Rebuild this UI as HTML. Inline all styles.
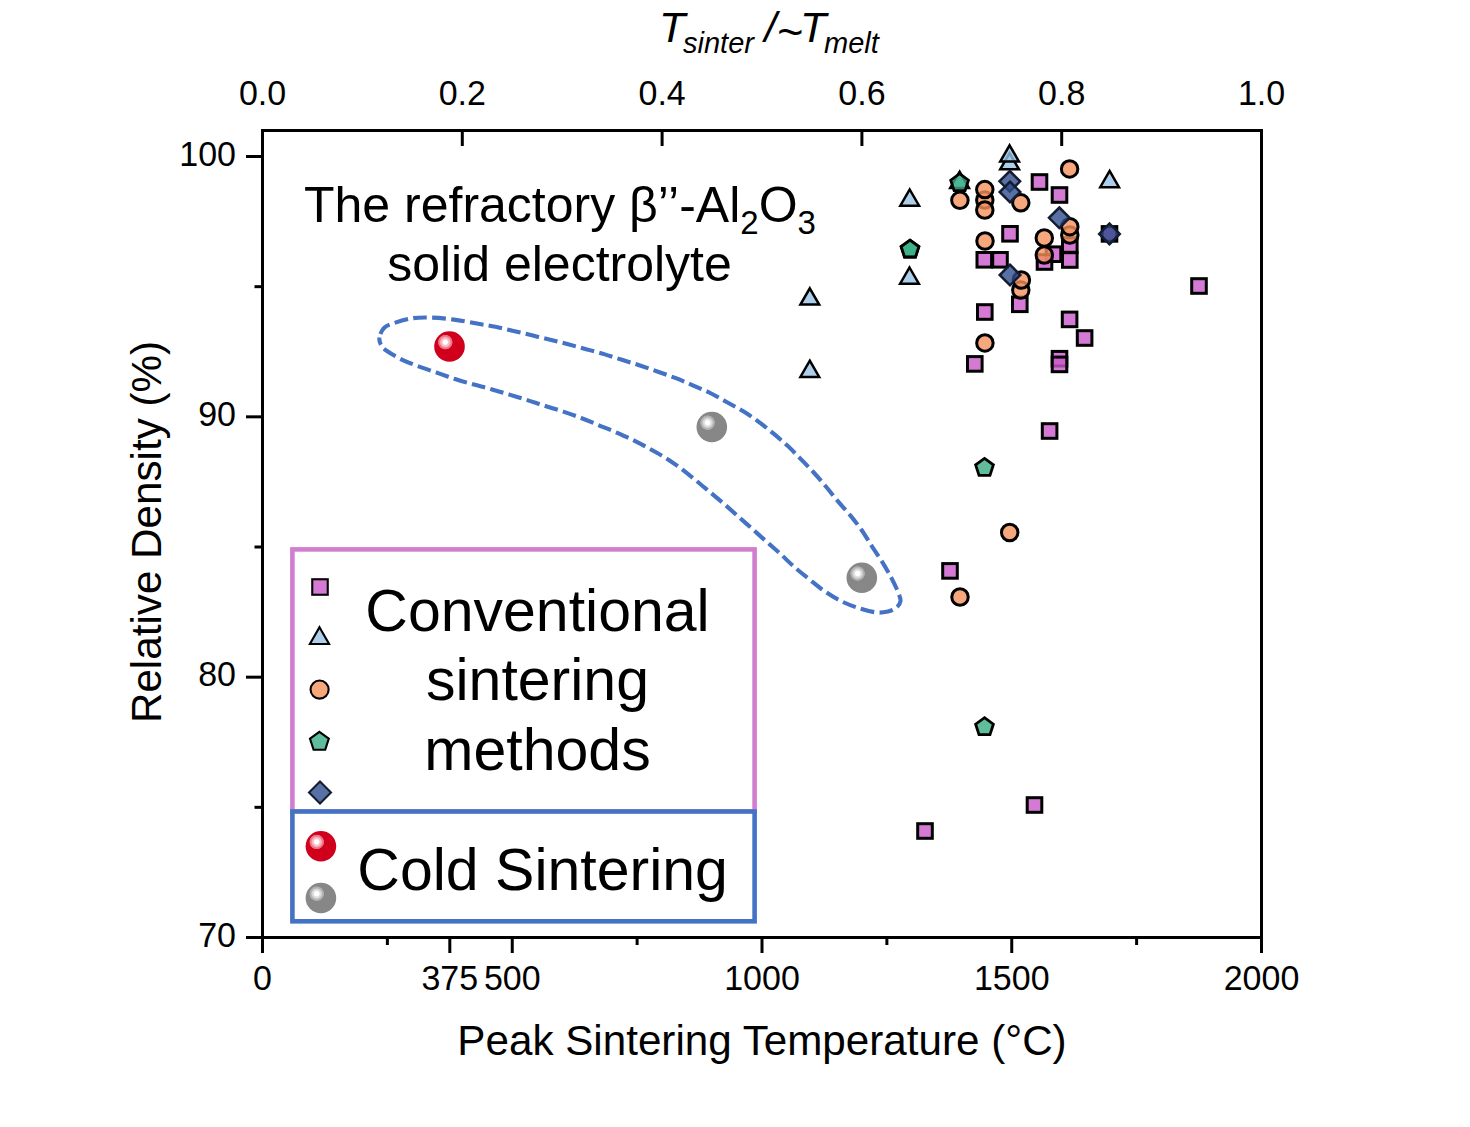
<!DOCTYPE html>
<html><head><meta charset="utf-8"><style>
html,body{margin:0;padding:0;background:#fff;}
svg{display:block;}
text{font-family:"Liberation Sans",sans-serif;}
</style></head><body>
<svg width="1470" height="1127" viewBox="0 0 1470 1127">
<defs>
<radialGradient id="hR" cx="0.5" cy="0.5" r="0.5">
<stop offset="0" stop-color="#fff"/><stop offset="0.28" stop-color="#fff"/><stop offset="0.42" stop-color="#f8c6cc"/><stop offset="0.62" stop-color="#f5b2ba"/><stop offset="0.72" stop-color="#ef8190"/><stop offset="0.92" stop-color="#ea6a7c"/><stop offset="1" stop-color="#d0001c"/>
</radialGradient>
<radialGradient id="hG" cx="0.5" cy="0.5" r="0.5">
<stop offset="0" stop-color="#fff"/><stop offset="0.28" stop-color="#fff"/><stop offset="0.42" stop-color="#e2e2e2"/><stop offset="0.62" stop-color="#d4d4d4"/><stop offset="0.72" stop-color="#b8b8b8"/><stop offset="0.92" stop-color="#acacac"/><stop offset="1" stop-color="#878787"/>
</radialGradient>
</defs>
<rect width="1470" height="1127" fill="#fff"/>
<rect x="262.5" y="130.5" width="999.0" height="807.0" fill="none" stroke="#000" stroke-width="3"/>
<line x1="262.50" y1="937.5" x2="262.50" y2="953" stroke="#000" stroke-width="3"/>
<line x1="449.81" y1="937.5" x2="449.81" y2="953" stroke="#000" stroke-width="3"/>
<line x1="512.25" y1="937.5" x2="512.25" y2="953" stroke="#000" stroke-width="3"/>
<line x1="762.00" y1="937.5" x2="762.00" y2="953" stroke="#000" stroke-width="3"/>
<line x1="1011.75" y1="937.5" x2="1011.75" y2="953" stroke="#000" stroke-width="3"/>
<line x1="1261.50" y1="937.5" x2="1261.50" y2="953" stroke="#000" stroke-width="3"/>
<line x1="387.38" y1="937.5" x2="387.38" y2="945" stroke="#000" stroke-width="3"/>
<line x1="637.12" y1="937.5" x2="637.12" y2="945" stroke="#000" stroke-width="3"/>
<line x1="886.88" y1="937.5" x2="886.88" y2="945" stroke="#000" stroke-width="3"/>
<line x1="1136.62" y1="937.5" x2="1136.62" y2="945" stroke="#000" stroke-width="3"/>
<line x1="246" y1="937.50" x2="262.5" y2="937.50" stroke="#000" stroke-width="3"/>
<line x1="246" y1="677.17" x2="262.5" y2="677.17" stroke="#000" stroke-width="3"/>
<line x1="246" y1="416.83" x2="262.5" y2="416.83" stroke="#000" stroke-width="3"/>
<line x1="246" y1="156.50" x2="262.5" y2="156.50" stroke="#000" stroke-width="3"/>
<line x1="254.5" y1="807.33" x2="262.5" y2="807.33" stroke="#000" stroke-width="3"/>
<line x1="254.5" y1="547.00" x2="262.5" y2="547.00" stroke="#000" stroke-width="3"/>
<line x1="254.5" y1="286.67" x2="262.5" y2="286.67" stroke="#000" stroke-width="3"/>
<line x1="262.50" y1="130.5" x2="262.50" y2="146" stroke="#000" stroke-width="3"/>
<line x1="462.30" y1="130.5" x2="462.30" y2="146" stroke="#000" stroke-width="3"/>
<line x1="662.10" y1="130.5" x2="662.10" y2="146" stroke="#000" stroke-width="3"/>
<line x1="861.90" y1="130.5" x2="861.90" y2="146" stroke="#000" stroke-width="3"/>
<line x1="1061.70" y1="130.5" x2="1061.70" y2="146" stroke="#000" stroke-width="3"/>
<line x1="1261.50" y1="130.5" x2="1261.50" y2="146" stroke="#000" stroke-width="3"/>
<text transform="translate(262.50,989.5) scale(1,1.04)" text-anchor="middle" font-family="Liberation Sans, sans-serif" font-size="34px">0</text>
<text transform="translate(449.81,989.5) scale(1,1.04)" text-anchor="middle" font-family="Liberation Sans, sans-serif" font-size="34px">375</text>
<text transform="translate(512.25,989.5) scale(1,1.04)" text-anchor="middle" font-family="Liberation Sans, sans-serif" font-size="34px">500</text>
<text transform="translate(762.00,989.5) scale(1,1.04)" text-anchor="middle" font-family="Liberation Sans, sans-serif" font-size="34px">1000</text>
<text transform="translate(1011.75,989.5) scale(1,1.04)" text-anchor="middle" font-family="Liberation Sans, sans-serif" font-size="34px">1500</text>
<text transform="translate(1261.50,989.5) scale(1,1.04)" text-anchor="middle" font-family="Liberation Sans, sans-serif" font-size="34px">2000</text>
<text transform="translate(236,946.50) scale(1,1.04)" text-anchor="end" font-family="Liberation Sans, sans-serif" font-size="34px">70</text>
<text transform="translate(236,686.17) scale(1,1.04)" text-anchor="end" font-family="Liberation Sans, sans-serif" font-size="34px">80</text>
<text transform="translate(236,425.83) scale(1,1.04)" text-anchor="end" font-family="Liberation Sans, sans-serif" font-size="34px">90</text>
<text transform="translate(236,165.50) scale(1,1.04)" text-anchor="end" font-family="Liberation Sans, sans-serif" font-size="34px">100</text>
<text transform="translate(262.50,104.5) scale(1,1.04)" text-anchor="middle" font-family="Liberation Sans, sans-serif" font-size="34px">0.0</text>
<text transform="translate(462.30,104.5) scale(1,1.04)" text-anchor="middle" font-family="Liberation Sans, sans-serif" font-size="34px">0.2</text>
<text transform="translate(662.10,104.5) scale(1,1.04)" text-anchor="middle" font-family="Liberation Sans, sans-serif" font-size="34px">0.4</text>
<text transform="translate(861.90,104.5) scale(1,1.04)" text-anchor="middle" font-family="Liberation Sans, sans-serif" font-size="34px">0.6</text>
<text transform="translate(1061.70,104.5) scale(1,1.04)" text-anchor="middle" font-family="Liberation Sans, sans-serif" font-size="34px">0.8</text>
<text transform="translate(1261.50,104.5) scale(1,1.04)" text-anchor="middle" font-family="Liberation Sans, sans-serif" font-size="34px">1.0</text>
<text x="762" y="1054.5" text-anchor="middle" font-family="Liberation Sans, sans-serif" font-size="42.2px">Peak Sintering Temperature (°C)</text>
<text transform="translate(161,532) rotate(-90)" text-anchor="middle" font-family="Liberation Sans, sans-serif" font-size="42.2px">Relative Density (%)</text>
<text x="659" y="42" font-family="Liberation Sans, sans-serif" font-size="43px" font-style="italic">T</text>
<text x="683" y="52.8" font-family="Liberation Sans, sans-serif" font-size="29px" font-style="italic">sinter</text>
<text x="764.5" y="42" font-family="Liberation Sans, sans-serif" font-size="43px" font-style="italic">/</text>
<text x="776.5" y="47" font-family="Liberation Sans, sans-serif" font-size="45px" font-style="italic">~</text>
<text x="800" y="42" font-family="Liberation Sans, sans-serif" font-size="43px" font-style="italic">T</text>
<text x="824" y="52.8" font-family="Liberation Sans, sans-serif" font-size="29px" font-style="italic">melt</text>
<text x="304" y="222" font-family="Liberation Sans, sans-serif" font-size="50px">The refractory β’’-Al<tspan font-size="33px" dy="12">2</tspan><tspan dy="-12">O</tspan><tspan font-size="33px" dy="12">3</tspan></text>
<text x="559.5" y="280.5" text-anchor="middle" font-family="Liberation Sans, sans-serif" font-size="50px">solid electrolyte</text>
<path d="M379.5,337.5 C380.0,334.7 381.6,330.4 384.0,328.0 C386.4,325.6 389.2,324.7 393.9,323.1 C398.6,321.5 405.8,319.2 412.0,318.3 C418.2,317.4 424.0,317.4 431.0,317.6 C438.0,317.8 446.3,318.6 454.0,319.6 C461.7,320.6 470.1,322.4 477.0,323.6 C483.9,324.8 489.4,325.6 495.5,326.8 C501.6,328.0 507.4,329.5 513.5,330.9 C519.6,332.3 525.8,333.8 531.9,335.3 C538.0,336.8 544.2,338.2 550.2,339.7 C556.2,341.2 562.2,342.7 568.2,344.3 C574.2,345.9 580.1,347.6 586.1,349.2 C592.1,350.8 598.1,352.3 604.1,354.1 C610.1,355.9 616.0,357.9 622.0,359.8 C628.0,361.7 634.0,363.5 640.0,365.5 C646.0,367.5 652.0,369.6 658.0,371.7 C664.0,373.8 670.2,376.0 675.9,378.2 C681.6,380.4 686.7,382.7 692.2,385.1 C697.8,387.5 703.6,389.7 709.2,392.5 C714.9,395.3 720.5,398.6 726.1,401.7 C731.7,404.8 737.5,407.8 742.9,411.1 C748.3,414.4 753.3,417.9 758.4,421.6 C763.5,425.3 768.4,429.4 773.3,433.4 C778.2,437.4 783.0,441.6 787.6,445.8 C792.2,450.1 796.2,454.4 800.6,458.9 C805.0,463.3 809.5,467.9 813.7,472.5 C818.0,477.1 822.1,482.0 826.1,486.8 C830.1,491.6 833.8,496.3 837.8,501.1 C841.8,505.9 846.4,510.6 850.3,515.4 C854.2,520.2 857.8,524.7 861.4,529.8 C865.0,534.9 868.2,540.6 871.6,545.8 C875.0,551.0 878.4,555.9 881.7,561.2 C885.0,566.5 888.5,572.5 891.3,577.7 C894.1,583.0 896.8,588.8 898.3,592.7 C899.8,596.6 900.8,598.5 900.5,601.0 C900.2,603.5 898.6,605.8 896.5,607.5 C894.4,609.2 891.5,610.7 888.0,611.5 C884.5,612.3 880.5,613.0 875.3,612.3 C870.1,611.6 862.7,609.5 856.7,607.5 C850.7,605.5 844.6,602.9 839.1,600.1 C833.6,597.3 828.7,594.0 823.6,590.5 C818.5,587.0 813.7,582.8 808.7,578.8 C803.7,574.8 798.5,570.6 793.8,566.5 C789.1,562.4 785.0,558.1 780.5,554.0 C776.0,549.9 771.2,545.8 766.5,541.6 C761.8,537.5 757.2,533.3 752.5,529.1 C747.8,524.9 743.1,520.8 738.4,516.6 C733.7,512.4 729.0,508.2 724.3,504.1 C719.6,500.1 714.9,496.2 710.2,492.3 C705.5,488.4 700.9,484.5 696.1,480.6 C691.3,476.7 686.4,472.6 681.3,468.8 C676.2,465.0 671.0,461.3 665.6,457.9 C660.2,454.5 654.7,451.5 649.2,448.5 C643.7,445.5 638.4,442.6 632.8,439.9 C627.2,437.2 621.2,434.6 615.5,432.1 C609.8,429.6 604.0,427.4 598.3,425.0 C592.6,422.6 586.9,420.2 581.1,418.0 C575.3,415.8 569.3,413.6 563.3,411.6 C557.3,409.6 551.3,407.9 545.3,406.0 C539.3,404.1 533.3,402.0 527.3,400.1 C521.3,398.2 515.4,396.4 509.4,394.6 C503.4,392.8 497.3,390.9 491.4,389.2 C485.5,387.5 479.8,386.2 473.9,384.6 C468.0,383.0 461.8,381.2 455.8,379.3 C449.8,377.4 444.1,375.2 438.1,373.1 C432.1,371.0 426.0,369.1 420.0,366.9 C414.0,364.7 407.8,362.4 402.3,359.8 C396.8,357.2 390.6,353.5 387.0,351.0 C383.4,348.5 382.2,347.2 381.0,345.0 C379.8,342.8 379.0,340.3 379.5,337.5Z" fill="none" stroke="#4472C4" stroke-width="4.1" stroke-dasharray="13.7 5.3" stroke-dashoffset="-3.7"/>
<rect x="292.4" y="549.4" width="462.2" height="262.1" fill="#fff" stroke="#D17ED1" stroke-width="4.6"/>
<rect x="292.4" y="811.5" width="462.2" height="109.8" fill="#fff" stroke="#4472C4" stroke-width="4.6"/>
<text x="537.5" y="631" text-anchor="middle" font-family="Liberation Sans, sans-serif" font-size="59px">Conventional</text>
<text x="537.5" y="700.2" text-anchor="middle" font-family="Liberation Sans, sans-serif" font-size="59px">sintering</text>
<text x="537.5" y="769.5" text-anchor="middle" font-family="Liberation Sans, sans-serif" font-size="59px">methods</text>
<text x="542.6" y="890" text-anchor="middle" font-family="Liberation Sans, sans-serif" font-size="59px">Cold Sintering</text>
<circle cx="449.5" cy="346.5" r="15.3" fill="#d0001c"/><circle cx="445.30" cy="342.20" r="7.6" fill="url(#hR)"/>
<circle cx="711.8" cy="427" r="15.3" fill="#878787"/><circle cx="707.60" cy="422.70" r="7.6" fill="url(#hG)"/>
<circle cx="861.8" cy="577.8" r="15.3" fill="#878787"/><circle cx="857.60" cy="573.50" r="7.6" fill="url(#hG)"/>
<circle cx="320.9" cy="846.2" r="15.3" fill="#d0001c"/><circle cx="316.70" cy="841.90" r="7.6" fill="url(#hR)"/>
<circle cx="320.9" cy="898" r="15.3" fill="#878787"/><circle cx="316.70" cy="893.70" r="7.6" fill="url(#hG)"/>
<rect x="1032.20" y="174.70" width="14.60" height="14.60" fill="#C959C9" fill-opacity="0.8" stroke="#000" stroke-width="3"/>
<rect x="1052.20" y="187.70" width="14.60" height="14.60" fill="#C959C9" fill-opacity="0.8" stroke="#000" stroke-width="3"/>
<rect x="1002.70" y="226.50" width="14.60" height="14.60" fill="#C959C9" fill-opacity="0.8" stroke="#000" stroke-width="3"/>
<rect x="977.00" y="252.50" width="14.60" height="14.60" fill="#C959C9" fill-opacity="0.8" stroke="#000" stroke-width="3"/>
<rect x="992.70" y="252.50" width="14.60" height="14.60" fill="#C959C9" fill-opacity="0.8" stroke="#000" stroke-width="3"/>
<rect x="1062.50" y="237.70" width="14.60" height="14.60" fill="#C959C9" fill-opacity="0.8" stroke="#000" stroke-width="3"/>
<rect x="1062.50" y="252.70" width="14.60" height="14.60" fill="#C959C9" fill-opacity="0.8" stroke="#000" stroke-width="3"/>
<rect x="1046.20" y="246.90" width="14.60" height="14.60" fill="#C959C9" fill-opacity="0.8" stroke="#000" stroke-width="3"/>
<rect x="1037.20" y="254.70" width="14.60" height="14.60" fill="#C959C9" fill-opacity="0.8" stroke="#000" stroke-width="3"/>
<rect x="1012.50" y="297.00" width="14.60" height="14.60" fill="#C959C9" fill-opacity="0.8" stroke="#000" stroke-width="3"/>
<rect x="977.50" y="304.70" width="14.60" height="14.60" fill="#C959C9" fill-opacity="0.8" stroke="#000" stroke-width="3"/>
<rect x="1062.30" y="312.10" width="14.60" height="14.60" fill="#C959C9" fill-opacity="0.8" stroke="#000" stroke-width="3"/>
<rect x="1077.30" y="330.70" width="14.60" height="14.60" fill="#C959C9" fill-opacity="0.8" stroke="#000" stroke-width="3"/>
<rect x="967.50" y="356.60" width="14.60" height="14.60" fill="#C959C9" fill-opacity="0.8" stroke="#000" stroke-width="3"/>
<rect x="1052.20" y="351.40" width="14.60" height="14.60" fill="#C959C9" fill-opacity="0.8" stroke="#000" stroke-width="3"/>
<rect x="1052.20" y="357.10" width="14.60" height="14.60" fill="#C959C9" fill-opacity="0.8" stroke="#000" stroke-width="3"/>
<rect x="1191.70" y="278.70" width="14.60" height="14.60" fill="#C959C9" fill-opacity="0.8" stroke="#000" stroke-width="3"/>
<rect x="1042.30" y="423.70" width="14.60" height="14.60" fill="#C959C9" fill-opacity="0.8" stroke="#000" stroke-width="3"/>
<rect x="1102.20" y="226.60" width="14.60" height="14.60" fill="#C959C9" fill-opacity="0.8" stroke="#000" stroke-width="3"/>
<rect x="942.70" y="563.60" width="14.60" height="14.60" fill="#C959C9" fill-opacity="0.8" stroke="#000" stroke-width="3"/>
<rect x="1027.20" y="797.70" width="14.60" height="14.60" fill="#C959C9" fill-opacity="0.8" stroke="#000" stroke-width="3"/>
<rect x="917.70" y="823.70" width="14.60" height="14.60" fill="#C959C9" fill-opacity="0.8" stroke="#000" stroke-width="3"/>
<path d="M959.60,171.70 L968.98,187.95 L950.22,187.95 Z" fill="#99C3E6" fill-opacity="0.8" stroke="#000" stroke-width="2.5"/>
<path d="M1009.60,153.10 L1018.98,169.35 L1000.22,169.35 Z" fill="#99C3E6" fill-opacity="0.8" stroke="#000" stroke-width="2.5"/>
<path d="M1009.60,145.30 L1018.98,161.55 L1000.22,161.55 Z" fill="#99C3E6" fill-opacity="0.8" stroke="#000" stroke-width="2.5"/>
<path d="M909.70,189.50 L919.08,205.75 L900.32,205.75 Z" fill="#99C3E6" fill-opacity="0.8" stroke="#000" stroke-width="2.5"/>
<path d="M1109.60,170.90 L1118.98,187.15 L1100.22,187.15 Z" fill="#99C3E6" fill-opacity="0.8" stroke="#000" stroke-width="2.5"/>
<path d="M909.50,267.50 L918.88,283.75 L900.12,283.75 Z" fill="#99C3E6" fill-opacity="0.8" stroke="#000" stroke-width="2.5"/>
<path d="M809.80,288.30 L819.18,304.55 L800.42,304.55 Z" fill="#99C3E6" fill-opacity="0.8" stroke="#000" stroke-width="2.5"/>
<path d="M809.80,360.70 L819.18,376.95 L800.42,376.95 Z" fill="#99C3E6" fill-opacity="0.8" stroke="#000" stroke-width="2.5"/>
<path d="M959.60,173.73 L968.47,180.18 L965.08,190.61 L954.12,190.61 L950.73,180.18 Z" fill="#37AC82" fill-opacity="0.8" stroke="#000" stroke-width="2.8"/>
<path d="M910.00,240.13 L918.87,246.58 L915.48,257.01 L904.52,257.01 L901.13,246.58 Z" fill="#37AC82" fill-opacity="0.8" stroke="#000" stroke-width="2.8"/>
<path d="M910.00,240.13 L918.87,246.58 L915.48,257.01 L904.52,257.01 L901.13,246.58 Z" fill="#37AC82" fill-opacity="0.8" stroke="#000" stroke-width="2.8"/>
<path d="M984.50,458.43 L993.37,464.88 L989.98,475.31 L979.02,475.31 L975.63,464.88 Z" fill="#37AC82" fill-opacity="0.8" stroke="#000" stroke-width="2.8"/>
<path d="M984.50,717.73 L993.37,724.18 L989.98,734.61 L979.02,734.61 L975.63,724.18 Z" fill="#37AC82" fill-opacity="0.8" stroke="#000" stroke-width="2.8"/>
<circle cx="1069.60" cy="168.90" r="8.25" fill="#F5915B" fill-opacity="0.8" stroke="#000" stroke-width="3"/>
<circle cx="959.90" cy="200.30" r="8.25" fill="#F5915B" fill-opacity="0.8" stroke="#000" stroke-width="3"/>
<circle cx="984.80" cy="200.00" r="8.25" fill="#F5915B" fill-opacity="0.8" stroke="#000" stroke-width="3"/>
<circle cx="984.80" cy="189.60" r="8.25" fill="#F5915B" fill-opacity="0.8" stroke="#000" stroke-width="3"/>
<circle cx="984.80" cy="210.00" r="8.25" fill="#F5915B" fill-opacity="0.8" stroke="#000" stroke-width="3"/>
<circle cx="1020.80" cy="202.80" r="8.25" fill="#F5915B" fill-opacity="0.8" stroke="#000" stroke-width="3"/>
<circle cx="1069.80" cy="235.00" r="8.25" fill="#F5915B" fill-opacity="0.8" stroke="#000" stroke-width="3"/>
<circle cx="1069.80" cy="226.70" r="8.25" fill="#F5915B" fill-opacity="0.8" stroke="#000" stroke-width="3"/>
<circle cx="985.00" cy="241.00" r="8.25" fill="#F5915B" fill-opacity="0.8" stroke="#000" stroke-width="3"/>
<circle cx="1044.30" cy="238.00" r="8.25" fill="#F5915B" fill-opacity="0.8" stroke="#000" stroke-width="3"/>
<circle cx="1044.30" cy="255.00" r="8.25" fill="#F5915B" fill-opacity="0.8" stroke="#000" stroke-width="3"/>
<circle cx="1020.80" cy="290.00" r="8.25" fill="#F5915B" fill-opacity="0.8" stroke="#000" stroke-width="3"/>
<circle cx="1021.40" cy="280.00" r="8.25" fill="#F5915B" fill-opacity="0.8" stroke="#000" stroke-width="3"/>
<circle cx="984.90" cy="342.90" r="8.25" fill="#F5915B" fill-opacity="0.8" stroke="#000" stroke-width="3"/>
<circle cx="1009.70" cy="532.50" r="8.25" fill="#F5915B" fill-opacity="0.8" stroke="#000" stroke-width="3"/>
<circle cx="960.00" cy="597.00" r="8.25" fill="#F5915B" fill-opacity="0.8" stroke="#000" stroke-width="3"/>
<path d="M1009.80,171.00 L1020.10,181.30 L1009.80,191.60 L999.50,181.30 Z" fill="#2E4C8C" fill-opacity="0.8" stroke="#141C30" stroke-width="2.5"/>
<path d="M1010.00,181.70 L1020.30,192.00 L1010.00,202.30 L999.70,192.00 Z" fill="#2E4C8C" fill-opacity="0.8" stroke="#141C30" stroke-width="2.5"/>
<path d="M1059.30,207.50 L1069.60,217.80 L1059.30,228.10 L1049.00,217.80 Z" fill="#2E4C8C" fill-opacity="0.8" stroke="#141C30" stroke-width="2.5"/>
<path d="M1010.00,264.70 L1020.30,275.00 L1010.00,285.30 L999.70,275.00 Z" fill="#2E4C8C" fill-opacity="0.8" stroke="#141C30" stroke-width="2.5"/>
<path d="M1109.50,223.60 L1119.80,233.90 L1109.50,244.20 L1099.20,233.90 Z" fill="#2E4C8C" fill-opacity="0.8" stroke="#141C30" stroke-width="2.5"/>
<rect x="312.25" y="579.25" width="15.5" height="15.5" fill="#C959C9" fill-opacity="0.8" stroke="#000" stroke-width="2.1"/>
<path d="M319.5,627.20 L329.10,644.05 L309.90,644.05 Z" fill="#99C3E6" fill-opacity="0.8" stroke="#000" stroke-width="2.1"/>
<circle cx="319.6" cy="689.6" r="9.05" fill="#F5915B" fill-opacity="0.8" stroke="#000" stroke-width="2.1"/>
<path d="M319.40,731.80 L328.82,738.64 L325.22,749.71 L313.58,749.71 L309.98,738.64 Z" fill="#37AC82" fill-opacity="0.8" stroke="#000" stroke-width="2.1"/>
<path d="M320,781.5 L331,792.5 L320,803.5 L309,792.5 Z" fill="#2E4C8C" fill-opacity="0.8" stroke="#141C30" stroke-width="2.1"/>
</svg>
</body></html>
